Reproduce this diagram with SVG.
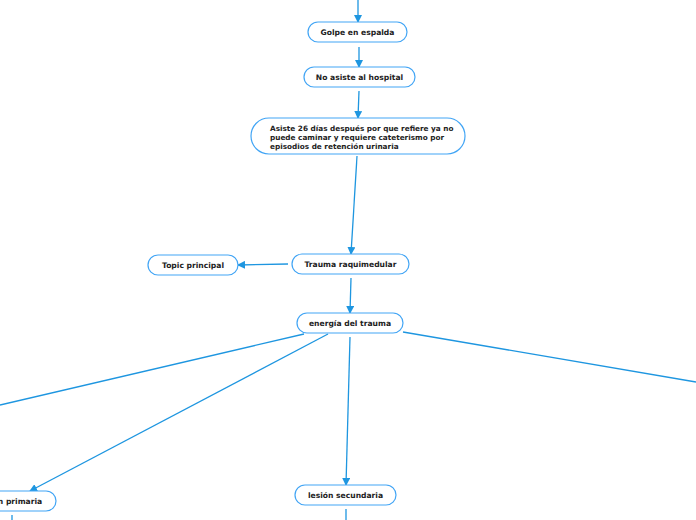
<svg xmlns="http://www.w3.org/2000/svg" width="696" height="520" viewBox="0 0 696 520">
<style>
.n{fill:#fff;stroke:#42a5f5;stroke-width:1.2}
.t{font-family:"DejaVu Sans",Verdana,sans-serif;font-weight:bold;font-size:7.6px;fill:#222;text-anchor:middle}
.c{stroke:#1e96e0;stroke-width:1.3;fill:none}
</style>
<defs><marker id="a" markerWidth="8" markerHeight="8" refX="7" refY="4" orient="auto" markerUnits="userSpaceOnUse"><path d="M0,0L8,4L0,8z" fill="#1e96e0"/></marker></defs>
<rect width="696" height="520" fill="#fff"/>
<g id="connectors">
<path class="c" d="M358,0L358,22" marker-end="url(#a)"/>
<path class="c" d="M359,47L359,67" marker-end="url(#a)"/>
<path class="c" d="M359,91L358,118" marker-end="url(#a)"/>
<path class="c" d="M357,156L351,254" marker-end="url(#a)"/>
<path class="c" d="M288,264L238,265" marker-end="url(#a)"/>
<path class="c" d="M351,278L350,313" marker-end="url(#a)"/>
<path class="c" d="M304,334L0,405"/>
<path class="c" d="M328,334L30,491" marker-end="url(#a)"/>
<path class="c" d="M350,337L346,485" marker-end="url(#a)"/>
<path class="c" d="M403,332L696,382"/>
<path class="c" d="M346,509L346,520"/>
<path class="c" d="M12,515L12,520"/>
</g>
<g id="n1"><rect class="n" x="308" y="22" width="99" height="20" rx="10"/><text class="t" x="357.5" y="35">Golpe en espalda</text></g>
<g id="n2"><rect class="n" x="304" y="67" width="111" height="20" rx="10"/><text class="t" x="359.5" y="80">No asiste al hospital</text></g>
<g id="n3"><rect class="n" x="251" y="118" width="214" height="36" rx="18"/>
<text class="t" style="text-anchor:start;font-size:7.3px" x="270" y="131">Asiste 26 días después por que refiere ya no</text>
<text class="t" style="text-anchor:start;font-size:7.3px" x="270" y="140">puede caminar y requiere cateterismo por</text>
<text class="t" style="text-anchor:start;font-size:7.3px" x="270" y="149">episodios de retención urinaria</text></g>
<g id="n4"><rect class="n" x="292" y="254" width="117" height="20" rx="10"/><text class="t" x="350.5" y="267">Trauma raquimedular</text></g>
<g id="n5"><rect class="n" x="148" y="255" width="90" height="20" rx="10"/><text class="t" x="193" y="268">Topic principal</text></g>
<g id="n6"><rect class="n" x="297" y="313" width="106" height="20" rx="10"/><text class="t" x="350" y="326">energía del trauma</text></g>
<g id="n7"><rect class="n" x="295" y="485" width="101" height="20" rx="10"/><text class="t" x="345.5" y="498">lesión secundaria</text></g>
<g id="n8"><rect class="n" x="-50" y="491" width="106" height="20" rx="10"/><text class="t" x="10" y="504">lesión primaria</text></g>
</svg>
